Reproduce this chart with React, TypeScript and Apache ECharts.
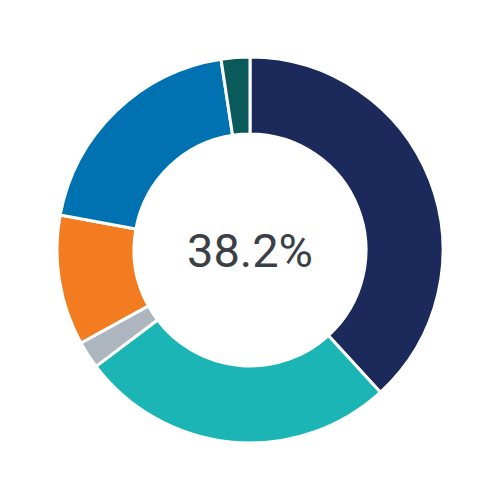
import React, { useEffect, useRef } from "react";
import * as echarts from "echarts";

const categories = ["A", "B", "C", "D", "E", "F"];
const values = [38.2, 26.5, 2.3, 10.9, 19.7, 2.4];
const colors = ["#1b2a5b", "#1cb5b6", "#adb5bf", "#f47c20", "#0072b1", "#0a5a5c"];
const centerLabel = "38.2%";

export default function App() {
  const ref = useRef<HTMLDivElement>(null);
  useEffect(() => {
    const chart = echarts.init(ref.current!, null, { renderer: "svg" });
    chart.setOption({
      animation: false,
      color: colors,
      title: {
        text: centerLabel,
        left: "center",
        top: "middle",
        textStyle: {
          fontFamily: "Roboto",
          fontSize: 47,
          fontWeight: "normal",
          color: "#3b3f46",
        },
      },
      series: [
        {
          type: "pie",
          center: [250, 250],
          radius: [116, 193],
          startAngle: 90,
          clockwise: true,
          label: { show: false },
          labelLine: { show: false },
          itemStyle: { borderColor: "#ffffff", borderWidth: 3 },
          data: categories.map((c, i) => ({ name: c, value: values[i] })),
        },
      ],
    });
    return () => chart.dispose();
  }, []);
  return (
    <div
      ref={ref}
      style={{ width: 500, height: 500, position: "absolute", left: 0, top: 0 }}
    />
  );
}
